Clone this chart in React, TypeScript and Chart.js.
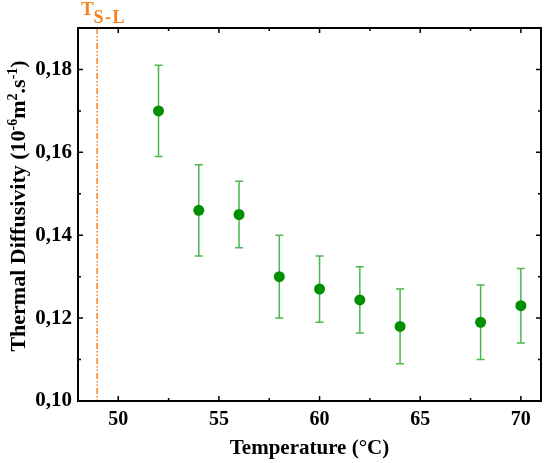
import { useEffect, useRef } from 'react'
import { Chart, registerables } from 'chart.js'

Chart.register(...registerables)

const temperatures = [52, 54, 56, 58, 60, 62, 64, 68, 70]
const diffusivity = [0.170, 0.146, 0.145, 0.130, 0.127, 0.1244, 0.118, 0.119, 0.123]
const errors = [0.011, 0.011, 0.008, 0.010, 0.008, 0.008, 0.009, 0.009, 0.009]
const xTicks = [50, 55, 60, 65, 70]
const xMinorTicks = [52.5, 57.5, 62.5, 67.5]
const yTicks = [0.10, 0.12, 0.14, 0.16, 0.18]
const yMinorTicks = [0.11, 0.13, 0.15, 0.17]
const meltingPoint = 48.95

const FONT = '"Liberation Serif", "Times New Roman", serif'
const ORANGE = '#f5821f'

const errorBarPlugin = {
  id: 'errorBars',
  beforeDatasetsDraw(chart: any) {
    const { ctx, scales } = chart
    const x = scales.x
    const y = scales.y
    ctx.save()
    ctx.strokeStyle = '#4cb74c'
    ctx.lineWidth = 1.5
    temperatures.forEach((t, i) => {
      const px = x.getPixelForValue(t)
      const top = y.getPixelForValue(diffusivity[i] + errors[i])
      const bot = y.getPixelForValue(diffusivity[i] - errors[i])
      ctx.beginPath()
      ctx.moveTo(px, top)
      ctx.lineTo(px, bot)
      ctx.moveTo(px - 4, top)
      ctx.lineTo(px + 4, top)
      ctx.moveTo(px - 4, bot)
      ctx.lineTo(px + 4, bot)
      ctx.stroke()
    })
    ctx.restore()
  }
}

const framePlugin = {
  id: 'frame',
  afterDraw(chart: any) {
    const { ctx, chartArea: a, scales } = chart
    const x = scales.x
    const y = scales.y
    ctx.save()

    // melting line
    ctx.strokeStyle = ORANGE
    ctx.lineWidth = 1.5
    ctx.setLineDash([6, 2, 1.5, 2, 1.5, 2])
    const mx = x.getPixelForValue(meltingPoint)
    ctx.beginPath()
    ctx.moveTo(mx, a.top)
    ctx.lineTo(mx, a.bottom)
    ctx.stroke()
    ctx.setLineDash([])

    // box
    ctx.strokeStyle = '#000'
    ctx.lineWidth = 2
    ctx.strokeRect(a.left, a.top, a.right - a.left, a.bottom - a.top)

    // inward ticks
    ctx.lineWidth = 1.5
    ctx.beginPath()
    const xt = (v: number, len: number) => {
      const p = x.getPixelForValue(v)
      ctx.moveTo(p, a.bottom)
      ctx.lineTo(p, a.bottom - len)
      ctx.moveTo(p, a.top)
      ctx.lineTo(p, a.top + len)
    }
    const yt = (v: number, len: number) => {
      const p = y.getPixelForValue(v)
      ctx.moveTo(a.left, p)
      ctx.lineTo(a.left + len, p)
      ctx.moveTo(a.right, p)
      ctx.lineTo(a.right - len, p)
    }
    xTicks.forEach((v) => xt(v, 5))
    xMinorTicks.forEach((v) => xt(v, 3))
    yTicks.forEach((v) => yt(v, 5))
    yMinorTicks.forEach((v) => yt(v, 3))
    ctx.stroke()

    // T S-L label
    ctx.fillStyle = ORANGE
    ctx.textBaseline = 'alphabetic'
    ctx.textAlign = 'left'
    ctx.font = `bold 19px ${FONT}`
    ctx.fillText('T', 81, 15)
    ctx.font = `bold 18px ${FONT}`
    ;(ctx as any).letterSpacing = '1.5px'
    ctx.fillText('S-L', 93.5, 22.7)
    ;(ctx as any).letterSpacing = '0px'

    // y title with superscripts
    const parts: [string, boolean][] = [
      ['Thermal Diffusivity (10', false],
      ['-6', true],
      ['m', false],
      ['2', true],
      ['.s', false],
      ['-1', true],
      [')', false]
    ]
    const big = `bold 22px ${FONT}`
    const small = `bold 14px ${FONT}`
    let total = 0
    parts.forEach(([s, sup]) => {
      ctx.font = sup ? small : big
      total += ctx.measureText(s).width
    })
    ctx.translate(25, 206)
    ctx.rotate(-Math.PI / 2)
    ctx.fillStyle = '#000'
    let cx = -total / 2
    parts.forEach(([s, sup]) => {
      ctx.font = sup ? small : big
      ctx.fillText(s, cx, sup ? -8 : 0)
      cx += ctx.measureText(s).width
    })
    ctx.restore()
  }
}

export default function App() {
  const chartRef = useRef<HTMLCanvasElement>(null)
  const chartInstance = useRef<Chart | null>(null)

  useEffect(() => {
    document.body.style.margin = '0'
    if (!chartRef.current) return
    if (chartInstance.current) chartInstance.current.destroy()

    chartInstance.current = new Chart(chartRef.current, {
      type: 'scatter',
      data: {
        datasets: [
          {
            label: 'Thermal diffusivity',
            data: temperatures.map((t, i) => ({ x: t, y: diffusivity[i] })),
            backgroundColor: '#008f00',
            borderWidth: 0,
            pointRadius: 5.5,
            pointHoverRadius: 5.5
          }
        ]
      },
      options: {
        animation: false,
        responsive: true,
        maintainAspectRatio: false,
        layout: { padding: { top: 28, right: 9, left: 0, bottom: 0 } },
        plugins: {
          legend: { display: false },
          tooltip: { enabled: false }
        },
        scales: {
          x: {
            type: 'linear',
            min: 48,
            max: 71,
            grid: { display: false, drawTicks: false },
            border: { display: false },
            afterBuildTicks: (s: any) => {
              s.ticks = xTicks.map((v) => ({ value: v }))
            },
            afterFit: (s: any) => {
              s.height = 62
            },
            ticks: {
              color: '#000',
              padding: 7,
              maxRotation: 0,
              font: { family: FONT, size: 20, weight: 'bold' }
            },
            title: {
              display: true,
              text: 'Temperature (°C)',
              color: '#000',
              padding: { top: 0, bottom: 2 },
              font: { family: FONT, size: 21, weight: 'bold' }
            }
          },
          y: {
            type: 'linear',
            min: 0.10,
            max: 0.19,
            grid: { display: false, drawTicks: false },
            border: { display: false },
            afterBuildTicks: (s: any) => {
              s.ticks = yTicks.map((v) => ({ value: v }))
            },
            afterFit: (s: any) => {
              s.width = 78
            },
            ticks: {
              color: '#000',
              padding: 6,
              callback: (v: any) => Number(v).toFixed(2).replace('.', ','),
              font: { family: FONT, size: 21, weight: 'bold' }
            }
          }
        }
      },
      plugins: [errorBarPlugin, framePlugin]
    })

    return () => {
      if (chartInstance.current) {
        chartInstance.current.destroy()
        chartInstance.current = null
      }
    }
  }, [])

  return (
    <div style={{ width: 550, height: 463, position: 'relative' }}>
      <canvas ref={chartRef} />
    </div>
  )
}
